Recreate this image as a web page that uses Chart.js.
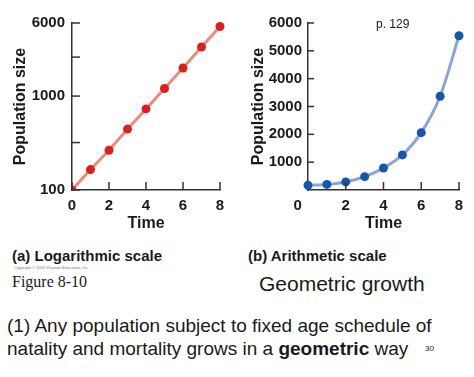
<!DOCTYPE html>
<html>
<head>
<meta charset="utf-8">
<script src="https://cdn.jsdelivr.net/npm/chart.js@4"></script>
<style>
  body { margin: 0; background: #fff; }
  #page { position: relative; width: 474px; height: 377px; overflow: hidden; font-family: "Liberation Sans", Arial, sans-serif; color: #1a1a1a; }
  .box { position: absolute; top: 0; width: 237px; height: 240px; }
  .txt { position: absolute; white-space: nowrap; line-height: 1; }
</style>
</head>
<body>
<div id="page">
  <div class="box" style="left:0"><canvas id="logChart" width="237" height="240"></canvas></div>
  <div class="box" style="left:237px"><canvas id="arithChart" width="237" height="240"></canvas></div>

  <div class="txt" style="left:376px; top:18px; font-size:12px;">p. 129</div>
  <div class="txt" style="left:12px; top:248px; font-size:15px; font-weight:bold;">(a) Logarithmic scale</div>
  <div class="txt" style="left:248px; top:248px; font-size:15px; font-weight:bold;">(b) Arithmetic scale</div>
  <div class="txt" style="left:14px; top:266px; font-size:4px; color:#777;">Copyright © 2005 Pearson Education, Inc.</div>
  <div class="txt" style="left:12px; top:274px; font-size:16px; font-family:'Liberation Serif', 'Times New Roman', serif;">Figure 8-10</div>
  <div class="txt" style="left:259px; top:273px; font-size:21px;">Geometric growth</div>
  <div class="txt" style="left:7px; top:316px; font-size:19px;">(1) Any population subject to fixed age schedule of</div>
  <div class="txt" style="left:7px; top:339px; font-size:19px;">natality and mortality grows in a <b>geometric</b> way</div>
  <div class="txt" style="left:425px; top:345px; font-size:8px;">30</div>
</div>

<script>
// time steps
const times = [0, 1, 2, 3, 4, 5, 6, 7, 8];
// population, log axis
const logValues = [100, 165, 265, 445, 730, 1205, 1990, 3335, 5510];
// population, arithmetic axis
const arithValues = [170, 200, 290, 480, 790, 1260, 2060, 3370, 5540];

const logYTicks = [100, 1000, 6000];
const logYMinor = [320, 2600];
const arithYTicks = [0, 1000, 2000, 3000, 4000, 5000, 6000];
const xTickLabels = [0, 2, 4, 6, 8];

const axisColor = "#333";
const tickFont = { family: "'Liberation Sans', Arial, sans-serif", size: 15, weight: "bold" };
const titleFont = { family: "'Liberation Sans', Arial, sans-serif", size: 16, weight: "bold" };

// short tick marks pointing into the plot area
const innerTicks = {
  id: "innerTicks",
  afterDraw(chart, args, opts) {
    const { ctx, chartArea, scales } = chart;
    ctx.save();
    ctx.strokeStyle = axisColor;
    ctx.lineWidth = 1.5;
    (opts.y || []).forEach((v) => {
      const y = scales.y.getPixelForValue(v);
      ctx.beginPath();
      ctx.moveTo(chartArea.left, y);
      ctx.lineTo(chartArea.left + opts.yLen, y);
      ctx.stroke();
    });
    (opts.x || []).forEach((v) => {
      const x = scales.x.getPixelForValue(v);
      ctx.beginPath();
      ctx.moveTo(x, chartArea.bottom);
      ctx.lineTo(x, chartArea.bottom - opts.xLen);
      ctx.stroke();
    });
    ctx.restore();
  },
};

function xScale(zeroLabel) {
  return {
    type: "linear",
    min: 0,
    max: 8,
    grid: { display: false, drawTicks: false },
    border: { display: true, color: axisColor, width: 1.5 },
    ticks: {
      stepSize: 2,
      padding: 7,
      color: "#1a1a1a",
      font: tickFont,
      maxRotation: 0,
      callback: (v) => (v === 0 ? zeroLabel : String(v)),
    },
    afterBuildTicks: (s) => { s.ticks = xTickLabels.map((v) => ({ value: v })); },
    afterFit: (s) => { s.height = 50; },
    title: { display: true, text: "Time", color: "#1a1a1a", font: titleFont, padding: { top: 0, bottom: 7 } },
  };
}

new Chart(document.getElementById("logChart"), {
  type: "line",
  data: {
    datasets: [
      {
        data: times.map((t, i) => ({ x: t, y: logValues[i] })),
        borderColor: "#e98c7c",
        borderWidth: 3,
        pointBackgroundColor: "#d9201c",
        pointBorderWidth: 0,
        pointRadius: 4.5,
        tension: 0,
        clip: { left: 0, bottom: 0, top: false, right: false },
      },
    ],
  },
  options: {
    responsive: false,
    animation: false,
    layout: { padding: { top: 23, right: 17, left: 0, bottom: 0 } },
    plugins: {
      legend: { display: false },
      tooltip: { enabled: false },
      innerTicks: { y: logYTicks.concat(logYMinor), x: xTickLabels, yLen: 8, xLen: 8 },
    },
    scales: {
      x: xScale("0"),
      y: {
        type: "logarithmic",
        min: 100,
        max: 6000,
        grid: { display: false, drawTicks: false },
        border: { display: true, color: axisColor, width: 1.5 },
        ticks: { padding: 7, color: "#1a1a1a", font: tickFont, callback: (v) => String(v) },
        afterBuildTicks: (s) => { s.ticks = logYTicks.map((v) => ({ value: v })); },
        afterFit: (s) => { s.width = 72; },
        title: { display: true, text: "Population size", color: "#1a1a1a", font: titleFont, padding: { top: 11, bottom: 0 } },
      },
    },
  },
  plugins: [innerTicks],
});

new Chart(document.getElementById("arithChart"), {
  type: "line",
  data: {
    datasets: [
      {
        data: times.map((t, i) => ({ x: t, y: arithValues[i] })),
        borderColor: "#8aa3d9",
        borderWidth: 3,
        pointBackgroundColor: "#1657ad",
        pointBorderWidth: 0,
        pointRadius: 4.5,
        cubicInterpolationMode: "monotone",
        clip: false,
      },
    ],
  },
  options: {
    responsive: false,
    animation: false,
    layout: { padding: { top: 23, right: 15, left: 0, bottom: 0 } },
    plugins: {
      legend: { display: false },
      tooltip: { enabled: false },
      innerTicks: { y: arithYTicks.slice(1), x: xTickLabels.slice(1), yLen: 6, xLen: 8 },
    },
    scales: {
      x: xScale("0     "),
      y: {
        type: "linear",
        min: 0,
        max: 6000,
        grid: { display: false, drawTicks: false },
        border: { display: true, color: axisColor, width: 1.5 },
        ticks: { padding: 6, color: "#1a1a1a", font: tickFont, callback: (v) => (v === 0 ? "" : String(v)) },
        afterBuildTicks: (s) => { s.ticks = arithYTicks.map((v) => ({ value: v })); },
        afterFit: (s) => { s.width = 71; },
        title: { display: true, text: "Population size", color: "#1a1a1a", font: titleFont, padding: { top: 12, bottom: 0 } },
      },
    },
  },
  plugins: [innerTicks],
});
</script>
</body>
</html>
